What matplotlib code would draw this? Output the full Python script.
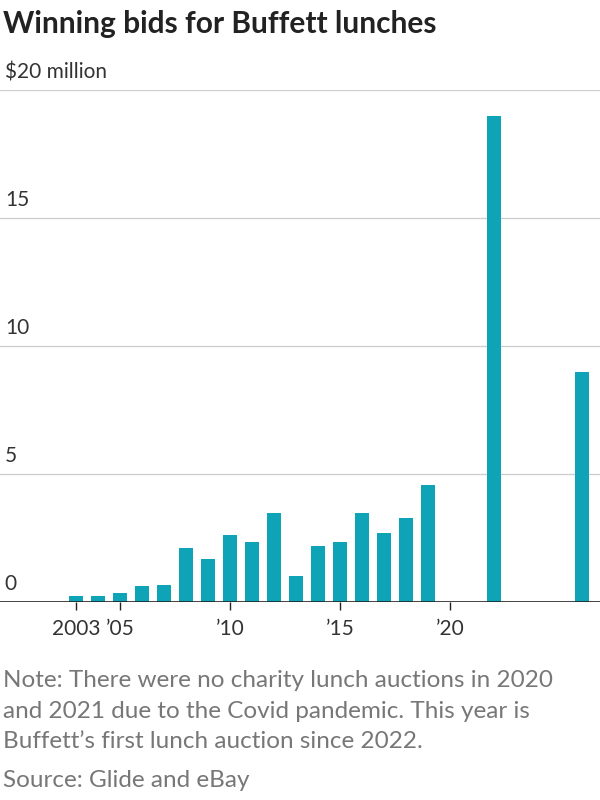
import matplotlib.pyplot as plt

years = [2003, 2004, 2005, 2006, 2007, 2008, 2009, 2010, 2011, 2012, 2013,
         2014, 2015, 2016, 2017, 2018, 2019, 2022, 2026]
bids = [0.25, 0.25, 0.35, 0.62, 0.65, 2.1, 1.68, 2.63, 2.35, 3.46, 1.0,
        2.17, 2.35, 3.46, 2.68, 3.3, 4.57, 19.0, 9.0]
tick_years = [2003, 2005, 2010, 2015, 2020]
tick_labels = ["2003", "\u201905", "\u201910", "\u201915", "\u201920"]
y_ticks = [0, 5, 10, 15, 20]
y_labels = ["0", "5", "10", "15", "$20 million"]

plt.rcParams['font.family'] = ['Lato', 'DejaVu Sans']
fig = plt.figure(figsize=(6, 8), dpi=100)
ax = fig.add_axes([0, 0.2475, 1, 0.64])

ax.bar(years, bids, width=0.64, color='#0fa3b8', zorder=3)
ax.set_xlim(1999.55, 2026.8)
ax.set_ylim(0, 20)

for v, lab in zip(y_ticks, y_labels):
    ax.axhline(v, color='#cccccc' if v else '#222222', lw=0.9 if v else 1.2, zorder=1 if v else 4)
    ax.text(1999.55 + 0.22, v + 0.3, lab, fontsize=15, color='#333333', va='bottom', ha='left')

ax.set_yticks([])
ax.set_xticks(tick_years)
ax.set_xticklabels(tick_labels, fontsize=15, color='#333333')
ax.tick_params(axis='x', length=6, width=1, color='#222222', pad=6)
for s in ax.spines.values():
    s.set_visible(False)

fig.text(0.005, 0.988, "Winning bids for Buffett lunches", fontsize=21.5, fontweight='bold',
         color='#222222', va='top', ha='left')
fig.text(0.005, 0.162, "Note: There were no charity lunch auctions in 2020\n"
         "and 2021 due to the Covid pandemic. This year is\n"
         "Buffett\u2019s first lunch auction since 2022.",
         fontsize=17.5, color='#777777', va='top', ha='left', linespacing=1.55)
fig.text(0.005, 0.038, "Source: Glide and eBay",
         fontsize=17.5, color='#777777', va='top', ha='left')

fig.savefig("out.png", dpi=100)
